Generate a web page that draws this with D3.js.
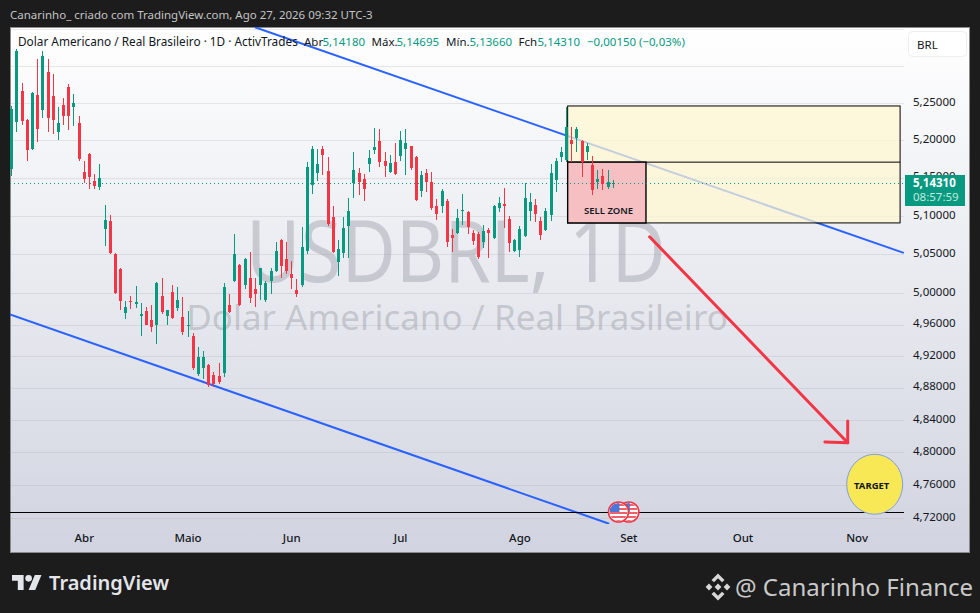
<!DOCTYPE html>
<html>
<head>
<meta charset="utf-8">
<script src="https://cdnjs.cloudflare.com/ajax/libs/d3/7.8.5/d3.min.js"></script>
<style>
  html, body { margin: 0; padding: 0; background: #1c1c1c; }
  svg { display: block; }
  text { font-family: "Noto Sans", sans-serif; }
</style>
</head>
<body>
<div id="chart"></div>
<script>
// daily candles (bar 0 is the leftmost one)
const opens = [5.162,5.225,5.266,5.227,5.189,5.261,5.241,5.292,5.260,5.211,5.247,5.271,5.245,5.223,5.158,5.182,5.146,5.138,
  5.083,5.094,5.050,5.031,4.975,4.990,4.986,4.971,4.977,4.966,4.960,4.996,4.971,5.001,4.981,4.970,4.959,4.946,4.897,4.905,4.909,4.896,4.895,4.899,4.985,
  5.016,5.037,5.011,5.020,5.006,5.010,4.992,5.016,5.029,5.069,5.044,5.025,5.004,5.010,5.054,5.141,5.157,5.189,5.159,5.099,5.040,5.052,5.087,5.143,5.156,5.149,
  5.168,5.187,5.199,5.172,5.158,5.171,5.179,5.188,5.192,5.178,5.133,5.156,5.145,5.113,5.113,5.120,5.075,5.078,5.107,5.105,5.078,5.077,5.066,5.082,5.071,5.110,5.116,
  5.096,5.054,5.056,5.074,5.106,5.114,5.094,5.082,5.101,5.147,5.178,5.174,5.201,5.203,5.199,5.185,5.167,5.145,5.153,5.138,5.1418];
const highs = [5.246,5.323,5.277,5.228,5.265,5.310,5.321,5.310,5.289,5.244,5.257,5.276,5.262,5.232,5.172,5.183,5.155,5.168,
  5.114,5.101,5.052,5.032,4.990,4.997,5.009,4.987,4.983,4.985,5.015,5.020,4.979,5.010,5.008,4.995,4.977,4.949,4.931,4.927,4.910,4.900,4.912,5.013,4.999,
  5.077,5.038,5.046,5.053,5.019,5.033,5.016,5.033,5.066,5.070,5.066,5.041,5.018,5.086,5.171,5.192,5.188,5.192,5.178,5.113,5.069,5.099,5.124,5.185,5.163,5.155,
  5.187,5.216,5.215,5.184,5.180,5.196,5.212,5.215,5.193,5.179,5.159,5.162,5.158,5.122,5.135,5.122,5.083,5.109,5.129,5.106,5.082,5.079,5.088,5.084,5.114,5.125,5.137,
  5.100,5.070,5.087,5.143,5.130,5.122,5.099,5.110,5.168,5.176,5.191,5.245,5.218,5.218,5.200,5.196,5.179,5.160,5.162,5.160,5.14695];
const lows = [5.153,5.211,5.220,5.173,5.187,5.198,5.230,5.211,5.208,5.200,5.220,5.214,5.219,5.172,5.143,5.135,5.135,5.134,
  5.061,5.051,4.999,4.979,4.967,4.980,4.981,4.946,4.959,4.951,4.936,4.973,4.960,4.967,4.977,4.947,4.944,4.902,4.895,4.891,4.881,4.881,4.885,4.894,4.975,
  5.015,4.984,5.005,4.987,4.983,4.992,4.989,4.999,5.027,5.019,5.025,5.006,4.995,5.008,5.051,5.129,5.146,5.154,5.087,5.052,5.022,5.045,5.046,5.124,5.128,5.120,
  5.158,5.182,5.164,5.151,5.157,5.154,5.172,5.154,5.160,5.120,5.125,5.132,5.108,5.095,5.104,5.060,5.053,5.077,5.088,5.077,5.062,5.044,5.058,5.046,5.070,5.105,5.084,
  5.053,5.053,5.047,5.073,5.094,5.092,5.069,5.081,5.094,5.132,5.171,5.171,5.171,5.185,5.151,5.174,5.128,5.135,5.134,5.135,5.1366];
const closes = [5.242,5.320,5.226,5.187,5.264,5.215,5.313,5.230,5.227,5.223,5.232,5.232,5.250,5.175,5.149,5.151,5.139,5.150,
  5.095,5.052,5.000,4.990,4.983,4.989,4.989,4.973,4.960,4.957,5.013,4.976,4.978,4.968,4.992,4.950,4.960,4.905,4.919,4.919,4.884,4.885,4.888,5.008,4.976,
  5.050,4.985,5.044,4.994,4.999,5.032,5.013,5.028,5.054,5.035,5.029,5.020,4.999,5.060,5.164,5.188,5.168,5.180,5.090,5.053,5.057,5.084,5.106,5.160,5.145,5.135,
  5.176,5.191,5.171,5.166,5.170,5.155,5.201,5.196,5.163,5.121,5.154,5.145,5.110,5.103,5.133,5.066,5.072,5.097,5.108,5.086,5.067,5.047,5.081,5.078,5.113,5.117,5.113,
  5.065,5.069,5.083,5.124,5.118,5.103,5.075,5.106,5.156,5.172,5.184,5.218,5.195,5.215,5.171,5.192,5.134,5.149,5.142,5.145,5.1431];

const gridPrices = [5.35, 5.30, 5.25, 5.20, 5.15, 5.10, 5.05, 5.00, 4.96, 4.92, 4.88, 4.84, 4.80, 4.76, 4.72];
const priceLabels = [5.25, 5.20, 5.15, 5.10, 5.05, 5.00, 4.96, 4.92, 4.88, 4.84, 4.80, 4.76, 4.72];
const monthLabels = ['Abr', 'Maio', 'Jun', 'Jul', 'Ago', 'Set', 'Out', 'Nov'];
const monthBars = [14, 34, 54, 75, 98, 119, 141, 163];
const lastPrice = 5.1431;
const supportPrice = 4.7267;

// drawings, as [bar, price]
const upperChannel = [[46.9, 5.353], [172, 5.052]];
const lowerChannel = [[-0.33, 4.973], [115.2, 4.713]];
const arrowShaft = [[123, 5.073], [161.2, 4.812]];
const arrowHead = [[161.2, 4.839], [161.2, 4.812], [156.8, 4.813]];
const sellBars = [107.2, 122.3];
const boxBars = [107.2, 171.3];
const boxPrices = [5.246, 5.171, 5.091];
const sellLabel = [115.1, 5.107];
const targetPoint = [166.4, 4.761];
const eventBars = [119, 117];

const width = 980, height = 613;
const pane = { left: 10, right: 904, top: 27, bottom: 552 };
const green = '#089981', red = '#f23645', blue = '#2962ff', ink = '#131722';

const x = d3.scaleLinear().domain([0, 116]).range([11.7, 613.3]);
const y = d3.scaleLog().domain([4.72, 5.25]).range([518, 103]);
const px = i => Math.floor(x(i));

const svg = d3.select('#chart').append('svg')
  .attr('width', width).attr('height', height)
  .attr('viewBox', [0, 0, width, height].join(' '));

const defs = svg.append('defs');
const grad = defs.append('linearGradient').attr('id', 'paneBg')
  .attr('x1', 0).attr('y1', 0).attr('x2', 0).attr('y2', 1);
grad.append('stop').attr('offset', '0%').attr('stop-color', '#ffffff');
grad.append('stop').attr('offset', '100%').attr('stop-color', '#d1d4e0');
defs.append('clipPath').attr('id', 'plotClip').append('rect')
  .attr('x', pane.left).attr('y', pane.top)
  .attr('width', pane.right - pane.left).attr('height', 497);

svg.append('rect').attr('width', width).attr('height', height).attr('fill', '#1c1c1c');

// header
svg.append('text').attr('x', 10).attr('y', 19)
  .attr('font-size', 11.5).attr('fill', '#c4c4c4')
  .text('Canarinho_ criado com TradingView.com, Ago 27, 2026 09:32 UTC-3');

// pane
svg.append('rect').attr('x', 10.5).attr('y', 27.5).attr('width', 959).attr('height', 525)
  .attr('fill', 'url(#paneBg)').attr('stroke', '#8a8a8a');

// grid
svg.append('g').selectAll('line').data(gridPrices).join('line')
  .attr('x1', pane.left + 1).attr('x2', pane.right)
  .attr('y1', d => Math.round(y(d)) + 0.5).attr('y2', d => Math.round(y(d)) + 0.5)
  .attr('stroke', '#9598a1').attr('stroke-opacity', 0.2);

// watermark
svg.append('text').attr('x', 456).attr('y', 282).attr('text-anchor', 'middle')
  .attr('font-size', 85).attr('fill', '#9598a1').attr('fill-opacity', 0.42)
  .attr('textLength', 420).attr('lengthAdjust', 'spacingAndGlyphs')
  .text('USDBRL, 1D');
svg.append('text').attr('x', 457).attr('y', 330).attr('text-anchor', 'middle')
  .attr('font-size', 35).attr('fill', '#9598a1').attr('fill-opacity', 0.42)
  .text('Dolar Americano / Real Brasileiro');

const plot = svg.append('g').attr('clip-path', 'url(#plotClip)');
const lineGen = d3.line().x(d => x(d[0])).y(d => y(d[1]));

// channel
plot.selectAll('path.channel').data([upperChannel, lowerChannel]).join('path')
  .attr('class', 'channel').attr('d', lineGen)
  .attr('fill', 'none').attr('stroke', blue).attr('stroke-width', 2);

// zones
plot.append('rect')
  .attr('x', x(boxBars[0])).attr('y', y(boxPrices[0]))
  .attr('width', x(boxBars[1]) - x(boxBars[0])).attr('height', y(boxPrices[2]) - y(boxPrices[0]))
  .attr('fill', '#fff6d0').attr('fill-opacity', 0.72).attr('stroke', '#000');
plot.append('line')
  .attr('x1', x(boxBars[0])).attr('x2', x(boxBars[1]))
  .attr('y1', y(boxPrices[1])).attr('y2', y(boxPrices[1]))
  .attr('stroke', '#000');
plot.append('rect')
  .attr('x', x(sellBars[0])).attr('y', y(boxPrices[1]))
  .attr('width', x(sellBars[1]) - x(sellBars[0])).attr('height', y(boxPrices[2]) - y(boxPrices[1]))
  .attr('fill', '#f6bfc2').attr('stroke', '#000').attr('stroke-width', 1.4);
plot.append('text')
  .attr('x', x(sellLabel[0])).attr('y', y(sellLabel[1]) + 3)
  .attr('text-anchor', 'middle').attr('font-size', 9.5).attr('font-weight', 600).attr('fill', ink)
  .text('SELL ZONE');

// support line and last price
plot.append('line').attr('x1', pane.left).attr('x2', pane.right)
  .attr('y1', Math.round(y(supportPrice)) + 0.5).attr('y2', Math.round(y(supportPrice)) + 0.5)
  .attr('stroke', '#000');
plot.append('line').attr('x1', pane.left).attr('x2', pane.right)
  .attr('y1', Math.round(y(lastPrice)) + 0.5).attr('y2', Math.round(y(lastPrice)) + 0.5)
  .attr('stroke', green).attr('stroke-dasharray', '1 3');

// candles
const candles = d3.range(opens.length);
const candle = plot.append('g').attr('shape-rendering', 'crispEdges')
  .selectAll('g').data(candles).join('g')
  .attr('fill', i => closes[i] >= opens[i] ? green : red);
candle.append('rect')
  .attr('x', px).attr('width', 1)
  .attr('y', i => Math.round(y(highs[i])))
  .attr('height', i => Math.max(1, Math.round(y(lows[i])) - Math.round(y(highs[i]))));
candle.append('rect')
  .attr('x', i => px(i) - 1).attr('width', 3)
  .attr('y', i => Math.round(y(Math.max(opens[i], closes[i]))))
  .attr('height', i => Math.max(1, Math.round(y(Math.min(opens[i], closes[i]))) - Math.round(y(Math.max(opens[i], closes[i])))));

// arrow
plot.selectAll('path.arrow').data([arrowShaft, arrowHead]).join('path')
  .attr('class', 'arrow').attr('d', lineGen)
  .attr('fill', 'none').attr('stroke', red).attr('stroke-width', 3)
  .attr('stroke-linecap', 'round').attr('stroke-linejoin', 'round');

// target
plot.append('ellipse')
  .attr('cx', x(targetPoint[0])).attr('cy', y(targetPoint[1]))
  .attr('rx', 28).attr('ry', 30)
  .attr('fill', '#f9e856').attr('stroke', '#7f9fe0');
plot.append('text')
  .attr('x', x(targetPoint[0]) - 3).attr('y', y(targetPoint[1]) + 5)
  .attr('text-anchor', 'middle').attr('font-size', 9.5).attr('font-weight', 700).attr('fill', ink)
  .text('TARGET');

// event flags
const flagY = 512;
eventBars.forEach((b, n) => {
  const id = 'flag' + n;
  const cx = x(b);
  defs.append('clipPath').attr('id', id).append('circle').attr('cx', cx).attr('cy', flagY).attr('r', 9);
  const f = svg.append('g');
  f.append('circle').attr('cx', cx).attr('cy', flagY).attr('r', 10)
    .attr('fill', '#fff').attr('stroke', red).attr('stroke-width', 1.6);
  const inner = f.append('g').attr('clip-path', `url(#${id})`);
  inner.selectAll('rect.stripe').data(d3.range(5)).join('rect')
    .attr('class', 'stripe')
    .attr('x', cx - 9).attr('width', 18).attr('height', 2)
    .attr('y', d => flagY - 8 + d * 4)
    .attr('fill', '#f0606a');
  inner.append('rect').attr('x', cx - 9).attr('y', flagY - 9).attr('width', 10).attr('height', 9).attr('fill', '#4a78d8');
});

// price axis
svg.append('g').selectAll('text').data(priceLabels).join('text')
  .attr('x', 913).attr('y', d => y(d) + 2.5)
  .attr('font-size', 11.5).attr('fill', ink)
  .text(d => d.toFixed(5).replace('.', ','));

// last price badge
svg.append('rect').attr('x', 905).attr('y', 175).attr('width', 60).attr('height', 31).attr('fill', green);
svg.append('text').attr('x', 913).attr('y', 187).attr('font-size', 11.5).attr('font-weight', 700).attr('fill', '#fff')
  .text(lastPrice.toFixed(5).replace('.', ','));
svg.append('text').attr('x', 913).attr('y', 201).attr('font-size', 11.5).attr('fill', '#c4e9df')
  .text('08:57:59');

// currency button
svg.append('rect').attr('x', 908.5).attr('y', 31.5).attr('width', 58).attr('height', 25).attr('rx', 4)
  .attr('fill', '#fff').attr('stroke', '#eceef2');
svg.append('text').attr('x', 917).attr('y', 49).attr('font-size', 11.5).attr('fill', ink).text('BRL');

// time axis
svg.append('g').selectAll('text').data(monthLabels).join('text')
  .attr('x', (d, i) => x(monthBars[i])).attr('y', 542)
  .attr('text-anchor', 'middle').attr('font-size', 11.5).attr('font-weight', 500).attr('fill', ink)
  .text(d => d);

// legend
const legend = svg.append('text').attr('y', 46).attr('font-size', 11.5).attr('fill', ink);
legend.append('tspan').attr('x', 18).attr('font-size', 11.8).text('Dolar Americano / Real Brasileiro · 1D · ActivTrades');
const legendLabels = [['Abr', 304], ['Máx.', 371.5], ['Mín.', 446], ['Fch', 518.5]];
const legendValues = [['5,14180', 322.5], ['5,14695', 396.5], ['5,13660', 469.5], ['5,14310', 537.5], ['−0,00150', 587], ['(−0,03%)', 639]];
legendLabels.forEach(d => legend.append('tspan').attr('x', d[1]).text(d[0]));
legendValues.forEach(d => legend.append('tspan').attr('x', d[1]).attr('fill', green).text(d[0]));

// footer: TradingView mark
const logo = svg.append('g').attr('transform', 'translate(12,575) scale(0.83)').attr('fill', '#e3e5ea');
logo.append('path').attr('d', 'M14 18H7V7H0V0h14v18zM28 18h-8L27.5 0h8L28 18z');
logo.append('circle').attr('cx', 20).attr('cy', 4).attr('r', 4);
svg.append('text').attr('x', 49).attr('y', 590)
  .attr('font-family', 'Inter, sans-serif').attr('font-size', 20).attr('font-weight', 600).attr('fill', '#e3e5ea')
  .text('TradingView');

// footer: exchange mark and handle
const mark = svg.append('g').attr('transform', 'translate(718,587)').attr('fill', '#d8d8d8');
[[0, 0], [-9, 0], [9, 0]].forEach(c => {
  mark.append('path').attr('d', `M${c[0] - 3.4} ${c[1]}L${c[0]} ${c[1] - 3.4}L${c[0] + 3.4} ${c[1]}L${c[0]} ${c[1] + 3.4}Z`);
});
mark.append('path').attr('d', 'M0 -13.5L6.5 -7L4 -4.7L0 -8.7L-4 -4.7L-6.5 -7Z');
mark.append('path').attr('d', 'M0 13.5L6.5 7L4 4.7L0 8.7L-4 4.7L-6.5 7Z');
svg.append('text').attr('x', 735).attr('y', 596)
  .attr('font-size', 24).attr('fill', '#c9c9c9')
  .text('@ Canarinho Finance');
</script>
</body>
</html>
